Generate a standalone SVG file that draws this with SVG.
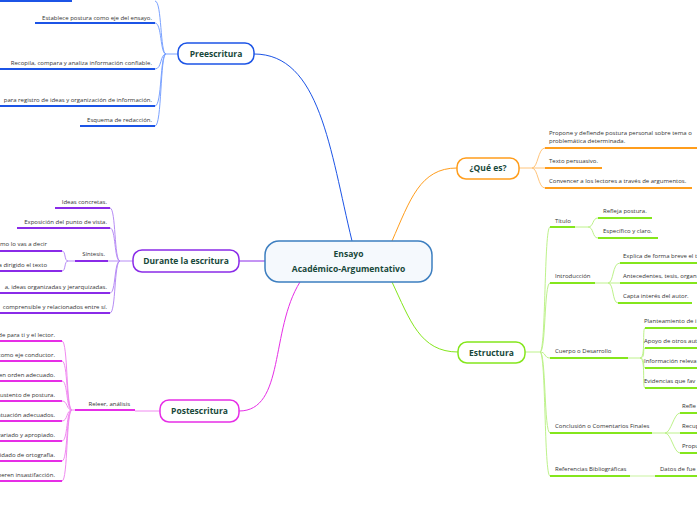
<svg xmlns="http://www.w3.org/2000/svg" width="697" height="520" viewBox="0 0 697 520">
<style>
.t{font-family:"Open Sans","Liberation Sans",sans-serif;font-size:6px;fill:#333}
.n{font-family:"Open Sans","Liberation Sans",sans-serif;font-size:8.5px;font-weight:bold;fill:#18483a;text-anchor:middle}
.e{text-anchor:end}
.c{fill:none;stroke-width:1}
.u{fill:none;stroke-width:2}
.b{stroke:#1c54e6}.p{stroke:#8a2be8}.m{stroke:#e62ee6}.o{stroke:#ff9d1c}.g{stroke:#84e61c}
.bl{stroke:#7aa2ff}.pl{stroke:#b78cf5}.ml{stroke:#f08af0}.ol{stroke:#ffc47a}.gl{stroke:#bdf28a}
</style>
<rect width="697" height="520" fill="#fff"/>
<g id="connectors">
<path class="c b" d="M254,54 C320,54 330,150 352,241" stroke-width="1.5"/>
<path class="c p" d="M239,261 L265,261" stroke-width="1.5"/>
<path class="c m" d="M239,411 C285,411 270,330 300,282" stroke-width="1.5"/>
<path class="c o" d="M392,241 C410,200 420,168 457,168" stroke-width="1.5"/>
<path class="c g" d="M392,282 C410,320 420,352 458,352" stroke-width="1.5"/>
<g class="c bl">
<path d="M178,54 L166,54 C160,54 162,1 155,1"/>
<path d="M166,54 C160,54 162,23 155,23"/>
<path d="M166,54 C160,54 162,69 155,69"/>
<path d="M166,54 C160,54 162,106 155,106"/>
<path d="M166,54 C160,54 162,126 155,126"/>
</g>
<g class="u b">
<path d="M0,1 H72"/><path d="M35,23 H155"/><path d="M0,69 H155"/><path d="M0,106 H155"/><path d="M80,126 H155"/>
</g>
<g class="c pl">
<path d="M133,261 L120,261 C114,261 116,208 110,208"/>
<path d="M120,261 C114,261 116,228 110,228"/>
<path d="M120,261 L108,261"/>
<path d="M120,261 C114,261 116,293 110,293"/>
<path d="M120,261 C114,261 116,313 110,313"/>
<path d="M75,261 L68,261 C64,261 66,251 62,251"/>
<path d="M68,261 C64,261 66,271 62,271"/>
</g>
<g class="u p">
<path d="M55,208 H110"/><path d="M17,228 H110"/><path d="M75,261 H108"/><path d="M0,251 H62"/><path d="M0,271 H62"/><path d="M0,293 H110"/><path d="M0,313 H110"/>
</g>
<g class="c ml">
<path d="M160,411 H135"/>
<path d="M75,410 L72,410 C66,410 68,341 62,341"/>
<path d="M72,410 C66,410 68,361 62,361"/>
<path d="M72,410 C66,410 68,381 62,381"/>
<path d="M72,410 C66,410 68,401 62,401"/>
<path d="M72,410 C66,410 68,421 62,421"/>
<path d="M72,410 C66,410 68,441 62,441"/>
<path d="M72,410 C66,410 68,461 62,461"/>
<path d="M72,410 C66,410 68,481 62,481"/>
</g>
<g class="u m">
<path d="M75,410 H135"/><path d="M0,341 H62"/><path d="M0,361 H62"/><path d="M0,381 H62"/><path d="M0,401 H62"/><path d="M0,421 H62"/><path d="M0,441 H62"/><path d="M0,461 H62"/><path d="M0,481 H62"/>
</g>
<g class="c ol">
<path d="M519,168 L532,168 C538,168 538,148 545,148"/>
<path d="M532,168 L545,168"/>
<path d="M532,168 C538,168 538,188 545,188"/>
</g>
<g class="u o">
<path d="M545,148 H697"/><path d="M545,168 H602"/><path d="M545,188 H692"/>
</g>
<g class="c gl">
<path d="M525,352 L540,352 C546,352 544,227 550,227"/>
<path d="M540,352 C546,352 544,283 550,283"/>
<path d="M540,352 C546,352 544,358 550,358"/>
<path d="M540,352 C546,352 544,433 550,433"/>
<path d="M540,352 C546,352 544,476 550,476"/>
<path d="M575,227 L588,227 C594,227 592,218 598,218"/>
<path d="M588,227 C594,227 592,238 598,238"/>
<path d="M595,283 L608,283 C614,283 612,263 620,263"/>
<path d="M608,283 L620,283"/>
<path d="M608,283 C614,283 612,303 618,303"/>
<path d="M628,358 L640,358 C646,358 642,328 645,328"/>
<path d="M640,358 C646,358 642,348 645,348"/>
<path d="M640,358 C646,358 642,368 645,368"/>
<path d="M640,358 C646,358 642,388 645,388"/>
<path d="M652,433 L665,433 C671,433 674,413 680,413"/>
<path d="M665,433 L680,433"/>
<path d="M665,433 C671,433 674,453 680,453"/>
<path d="M630,476 H655" stroke-width="2" stroke="#e4f9cf"/>
</g>
<g class="u g">
<path d="M550,227 H575"/><path d="M598,218 H652"/><path d="M598,238 H658"/>
<path d="M550,283 H595"/><path d="M620,263 H697"/><path d="M620,283 H697"/><path d="M618,303 H692"/>
<path d="M550,358 H628"/><path d="M645,328 H697"/><path d="M645,348 H697"/><path d="M645,368 H697"/><path d="M645,388 H697"/>
<path d="M550,433 H652"/><path d="M680,413 H697"/><path d="M680,433 H697"/><path d="M680,453 H697"/>
<path d="M550,476 H630"/><path d="M655,476 H697"/>
</g>
</g>
<g id="central">
<rect x="265" y="241" width="167" height="41" rx="14" fill="#f5f9fd" stroke="#3d7fc0" stroke-width="1.5"/>
<text class="n" x="348.5" y="257" font-size="10">Ensayo</text>
<text class="n" x="348.5" y="272" font-size="10">Académico-Argumentativo</text>
</g>
<g id="preescritura">
<rect x="178" y="43" width="76" height="21" rx="9" fill="#fff" stroke="#1c54e6" stroke-width="1.5"/>
<text class="n" x="216" y="57">Preescritura</text>
<text class="t e" x="152" y="20">Establece postura como eje del ensayo.</text>
<text class="t e" x="152" y="65">Recopila, compara y analiza información confiable.</text>
<text class="t e" x="152" y="102">para registro de ideas y organización de información.</text>
<text class="t e" x="152" y="122">Esquema de redacción.</text>
</g>
<g id="durante">
<rect x="133" y="250" width="106" height="22" rx="9" fill="#fff" stroke="#8a2be8" stroke-width="1.5"/>
<text class="n" x="186" y="264">Durante la escritura</text>
<text class="t e" x="107" y="204">Ideas concretas.</text>
<text class="t e" x="107" y="224">Exposición del punto de vista.</text>
<text class="t e" x="105" y="256">Síntesis.</text>
<text class="t e" x="47" y="246">mo lo vas a decir</text>
<text class="t e" x="47" y="267">a dirigido el texto</text>
<text class="t e" x="107" y="289">a, ideas organizadas y jerarquizadas.</text>
<text class="t e" x="107" y="309">comprensible y relacionados entre sí.</text>
</g>
<g id="postescritura">
<rect x="160" y="400" width="79" height="22" rx="9" fill="#fff" stroke="#e62ee6" stroke-width="1.5"/>
<text class="n" x="199.5" y="414">Postescritura</text>
<text class="t e" x="130" y="406">Releer, análisis</text>
<text class="t e" x="55" y="337">de para ti y el lector.</text>
<text class="t e" x="55" y="357">como eje conductor.</text>
<text class="t e" x="55" y="377">en orden adecuado.</text>
<text class="t e" x="55" y="397">sustento de postura.</text>
<text class="t e" x="55" y="417">ntuación adecuados.</text>
<text class="t e" x="55" y="437">variado y apropiado.</text>
<text class="t e" x="55" y="457">idado de ortografía.</text>
<text class="t e" x="55" y="477">meren insastifacción.</text>
</g>
<g id="quees">
<rect x="457" y="158" width="62" height="21" rx="9" fill="#fff" stroke="#ff9d1c" stroke-width="1.5"/>
<text class="n" x="488" y="171">¿Qué es?</text>
<text class="t" x="549" y="135">Propone y defiende postura personal sobre tema o</text>
<text class="t" x="549" y="143">problemática determinada.</text>
<text class="t" x="549" y="163">Texto persuasivo.</text>
<text class="t" x="549" y="183">Convencer a los lectores a través de argumentos.</text>
</g>
<g id="estructura">
<rect x="458" y="342" width="67" height="21" rx="9" fill="#fff" stroke="#84e61c" stroke-width="1.5"/>
<text class="n" x="491.5" y="356">Estructura</text>
<text class="t" x="555" y="223">Título</text>
<text class="t" x="603" y="213">Refleja postura.</text>
<text class="t" x="603" y="233">Específico y claro.</text>
<text class="t" x="555" y="278">Introducción</text>
<text class="t" x="623" y="258">Explica de forma breve el t</text>
<text class="t" x="623" y="278">Antecedentes, tesis, organ</text>
<text class="t" x="623" y="298">Capta interés del autor.</text>
<text class="t" x="555" y="353">Cuerpo o Desarrollo</text>
<text class="t" x="644" y="323">Planteamiento de i</text>
<text class="t" x="644" y="343">Apoyo de otros aut</text>
<text class="t" x="644" y="363">Información releva</text>
<text class="t" x="644" y="383">Evidencias que fav</text>
<text class="t" x="555" y="428">Conclusión o Comentarios Finales</text>
<text class="t" x="682" y="408">Refle</text>
<text class="t" x="682" y="428">Recup</text>
<text class="t" x="682" y="448">Propu</text>
<text class="t" x="555" y="471">Referencias Bibliográficas</text>
<text class="t" x="660" y="471">Datos de fue</text>
</g>
</svg>
